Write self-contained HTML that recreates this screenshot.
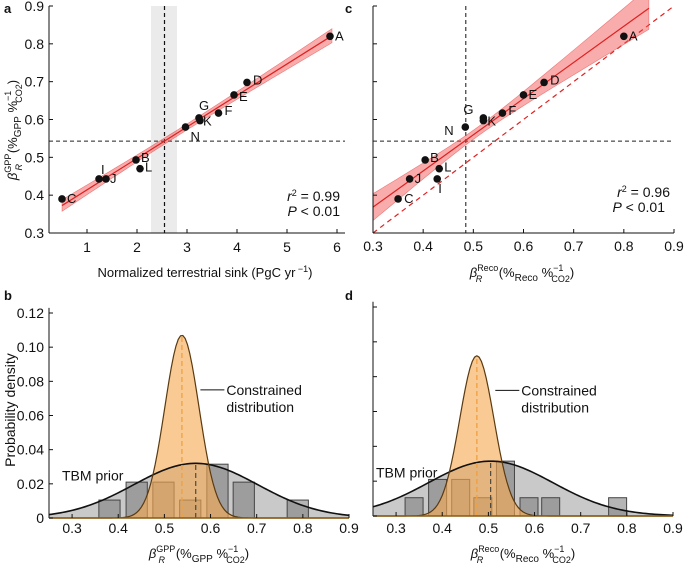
<!DOCTYPE html>
<html><head><meta charset="utf-8">
<style>
html,body{margin:0;padding:0;background:#fff;}
svg{display:block;font-family:"Liberation Sans",sans-serif;}
</style></head>
<body>
<svg id="fig" width="685" height="564" viewBox="0 0 685 564" xmlns="http://www.w3.org/2000/svg"></svg>
<script>
// ---------- data ----------
const modelNames = ["A","B","C","D","E","F","G","I","J","K","L","N"];
const sinkValues = [5.86,1.98,0.50,4.20,3.94,3.63,3.24,1.24,1.38,3.26,2.06,2.97];
const betaGppValues = [0.820,0.493,0.390,0.698,0.665,0.617,0.604,0.443,0.443,0.597,0.470,0.580];
const betaRecoValues = [0.800,0.404,0.350,0.641,0.600,0.558,0.520,0.428,0.373,0.520,0.432,0.484];
const sinkObs = [2.55];
const sinkObsRange = [2.28,2.80];
const gppConstrained = [0.543];
const recoConstrained = [0.485];
const panelAXTicks = [1,2,3,4,5,6];
const panelAYTicks = [0.3,0.4,0.5,0.6,0.7,0.8,0.9];
const panelCXTicks = [0.3,0.4,0.5,0.6,0.7,0.8,0.9];
const pdfYTicks = [0,0.02,0.04,0.06,0.08,0.10,0.12];
const pdfYTickLabels = ["0","0.02","0.04","0.06","0.08","0.10","0.12"];
const pdfXTicks = [0.3,0.4,0.5,0.6,0.7,0.8,0.9];
const gppBinCenters = [0.381,0.440,0.498,0.556,0.615,0.672,0.789];
const gppBinDensity = [0.0105,0.021,0.021,0.0105,0.0315,0.021,0.0105];
const recoBinCenters = [0.339,0.390,0.440,0.488,0.537,0.588,0.635,0.780];
const recoBinDensity = [0.0105,0.021,0.021,0.0105,0.0315,0.0105,0.0105,0.0105];
const gppPrior = [0.568,0.135,0.032];      // mean, sd, peak
const gppPosterior = [0.538,0.037,0.107];
const recoPrior = [0.505,0.135,0.0315];
const recoPosterior = [0.475,0.037,0.092];

// ---------- helpers ----------
const NS="http://www.w3.org/2000/svg";
const svg=document.getElementById('fig');
function mk(tag,attrs,parent,name,inter){
  const e=document.createElementNS(NS,tag);
  for(const k in attrs) e.setAttribute(k,attrs[k]);
  
  
  (parent||svg).appendChild(e); return e;
}
function txt(x,y,s,size,anchor,parent,name,extra){
  const t=mk('text',Object.assign({x:x,y:y,'font-size':size,'text-anchor':anchor||'start',fill:'#111'},extra||{}),parent,name,false);
  t.textContent=s; return t;
}
function lin(d0,d1,r0,r1){return v=>r0+(v-d0)*(r1-r0)/(d1-d0);}
function ols(xs,ys){const n=xs.length;const mx=xs.reduce((a,b)=>a+b)/n,my=ys.reduce((a,b)=>a+b)/n;
  let sxx=0,sxy=0;for(let i=0;i<n;i++){sxx+=(xs[i]-mx)**2;sxy+=(xs[i]-mx)*(ys[i]-my);}const b=sxy/sxx;return [my-b*mx,b,mx,sxx];}
function gauss(p,x){return p[2]*Math.exp(-((x-p[0])**2)/(2*p[1]*p[1]));}
function betaLabel(cx,y,sup,sub,parent,name){
  const t=mk('text',{x:cx,y:y,'font-size':13,'text-anchor':'middle',fill:'#111'},parent,name,false);
  let s1=mk('tspan',{'font-style':'italic'},t,'beta-symbol',false); s1.textContent="β";
  let s2=mk('tspan',{dy:-6,'font-size':9},t,'beta-superscript',false); s2.textContent=sup;
  let s3=mk('tspan',{dx:-(sup.length*5.6),dy:11,'font-size':9,'font-style':'italic'},t,'beta-subscript',false); s3.textContent="R";
  let s4=mk('tspan',{dx:(sup.length*5.6-6),dy:-5},t,'unit-open',false); s4.textContent="(%";
  let s5=mk('tspan',{dy:4,'font-size':10},t,'unit-sub',false); s5.textContent=sub;
  let s6=mk('tspan',{dy:-4},t,'unit-pct',false); s6.textContent=" %";
  let s7=mk('tspan',{dy:-6,'font-size':9},t,'unit-exp',false); s7.textContent="−1";
  let s8=mk('tspan',{dx:-12,dy:11,'font-size':9},t,'unit-co2',false); s8.textContent="CO2";
  let s9=mk('tspan',{dy:-5},t,'unit-close',false); s9.textContent=")";
  return t;
}

// ---------- panel a ----------
const ax=lin(0,1,37,87), ay=lin(0.3,0.9,233,6);
const gA=mk('g',{},svg,'panel-a',false);
txt(4,13,"a",13,'start',gA,'panel-a-letter',{'font-weight':'bold'});
mk('rect',{x:ax(sinkObsRange[0]),y:6,width:ax(sinkObsRange[1])-ax(sinkObsRange[0]),height:227,fill:'#ebebeb'},gA,'observed-sink-range',false);
mk('line',{x1:ax(sinkObs[0]),x2:ax(sinkObs[0]),y1:6,y2:233,stroke:'#111','stroke-width':1.2,'stroke-dasharray':'4,3'},gA,'observed-sink-line',false);
mk('line',{x1:49,x2:345,y1:ay(gppConstrained[0]),y2:ay(gppConstrained[0]),stroke:'#222','stroke-width':1,'stroke-dasharray':'4,3'},gA,'constrained-beta-line',false);
(function(){
  const f=ols(sinkValues,betaGppValues);const x0=0.5,x1=5.9;let up=[],lo=[];
  for(let i=0;i<=40;i++){const x=x0+(x1-x0)*i/40;const y=f[0]+f[1]*x;const h=Math.sqrt(0.008**2+(0.0055*(x-f[2]))**2);
    up.push(ax(x)+','+ay(y+h));lo.unshift(ax(x)+','+ay(y-h));}
  mk('polygon',{points:up.concat(lo).join(' '),fill:'rgba(240,70,70,0.45)',stroke:'rgba(230,60,60,0.6)','stroke-width':0.6},gA,'regression-confidence-band',false);
  mk('line',{x1:ax(x0),y1:ay(f[0]+f[1]*x0),x2:ax(x1),y2:ay(f[0]+f[1]*x1),stroke:'#e02020','stroke-width':1.2},gA,'regression-line',false);
})();
const aOff={A:[5,4],B:[5,2],C:[5,4],D:[6,2],E:[5,6],F:[6,2],G:[0,-8],I:[2,-5],J:[4,4],K:[3,5],L:[5,3],N:[5,14]};
modelNames.forEach((m,i)=>{
  const x=ax(sinkValues[i]),y=ay(betaGppValues[i]);
  mk('circle',{cx:x,cy:y,r:3.8,fill:'#111'},gA,'model-point-'+m.toLowerCase(),true);
  txt(x+aOff[m][0],y+aOff[m][1],m,13,'start',gA,'model-label-'+m.toLowerCase());
});
mk('line',{x1:49,x2:49,y1:6,y2:233,stroke:'#111','stroke-width':1},gA,'y-axis',false);
mk('line',{x1:49,x2:345,y1:233,y2:233,stroke:'#111','stroke-width':1},gA,'x-axis',false);
panelAYTicks.forEach(v=>{mk('line',{x1:49,x2:53,y1:ay(v),y2:ay(v),stroke:'#111'},gA,'y-tick',false);txt(44,ay(v)+5,v.toFixed(1),14,'end',gA,'y-tick-label');});
panelAXTicks.forEach(v=>{mk('line',{x1:ax(v),x2:ax(v),y1:233,y2:229,stroke:'#111'},gA,'x-tick',false);txt(ax(v),252,String(v),14,'middle',gA,'x-tick-label');});
(function(){const t=txt(205,277,"Normalized terrestrial sink (PgC yr",13,'middle',gA,'x-axis-title');
  const s=mk('tspan',{dy:-5,'font-size':9},t,'exp',false);s.textContent=" −1";const s2=mk('tspan',{dy:5},t,'close',false);s2.textContent=")";})();
(function(){const g=mk('g',{transform:'translate(17,130) rotate(-90)'},gA,'y-axis-title-group',false);betaLabel(0,0,"GPP","GPP",g,'y-axis-title');})();
(function(){const t=txt(340,201,"",14,'end',gA,'r-squared-a');const a=mk('tspan',{'font-style':'italic'},t,'r',false);a.textContent="r";const b=mk('tspan',{dy:-5,'font-size':9},t,'sq',false);b.textContent="2";const c=mk('tspan',{dy:5},t,'val',false);c.textContent=" = 0.99";
  const t2=txt(340,216,"",14,'end',gA,'p-value-a');const p=mk('tspan',{'font-style':'italic'},t2,'p',false);p.textContent="P";const q=mk('tspan',{},t2,'val',false);q.textContent=" < 0.01";})();

// ---------- panel c ----------
const cx=lin(0.3,0.9,373,674), cy=ay;
const gC=mk('g',{},svg,'panel-c',false);
txt(345,13,"c",13,'start',gC,'panel-c-letter',{'font-weight':'bold'});
mk('line',{x1:cx(recoConstrained[0]),x2:cx(recoConstrained[0]),y1:6,y2:233,stroke:'#111','stroke-width':1,'stroke-dasharray':'4,3'},gC,'constrained-reco-line',false);
mk('line',{x1:373,x2:674,y1:cy(gppConstrained[0]),y2:cy(gppConstrained[0]),stroke:'#222','stroke-width':1,'stroke-dasharray':'4,3'},gC,'constrained-beta-line-c',false);
mk('line',{x1:cx(0.3),y1:cy(0.3),x2:cx(0.9),y2:cy(0.9),stroke:'#e02020','stroke-width':1.2,'stroke-dasharray':'5,4'},gC,'one-to-one-line',false);
(function(){
  const f=ols(betaRecoValues,betaGppValues);const x0=0.3,x1=0.85;let up=[],lo=[];
  for(let i=0;i<=40;i++){const x=x0+(x1-x0)*i/40;const y=f[0]+f[1]*x;const h=Math.sqrt(0.012**2+(0.16*(x-f[2]))**2);
    up.push(cx(x)+','+cy(y+h));lo.unshift(cx(x)+','+cy(y-h));}
  mk('polygon',{points:up.concat(lo).join(' '),fill:'rgba(240,70,70,0.45)',stroke:'rgba(230,60,60,0.6)','stroke-width':0.6},gC,'regression-confidence-band-c',false);
  mk('line',{x1:cx(x0),y1:cy(f[0]+f[1]*x0),x2:cx(x1),y2:cy(f[0]+f[1]*x1),stroke:'#e02020','stroke-width':1.2},gC,'regression-line-c',false);
})();
const cOff={A:[5,4],B:[5,2],C:[6,4],D:[6,2],E:[5,4],F:[6,2],G:[-20,-4],I:[1,14],J:[5,4],K:[4,5],L:[5,3],N:[-21,8]};
modelNames.forEach((m,i)=>{
  const x=cx(betaRecoValues[i]),y=cy(betaGppValues[i]);
  mk('circle',{cx:x,cy:y,r:3.8,fill:'#111'},gC,'model-point-c-'+m.toLowerCase(),true);
  txt(x+cOff[m][0],y+cOff[m][1],m,13,'start',gC,'model-label-c-'+m.toLowerCase());
});
mk('line',{x1:373,x2:373,y1:6,y2:233,stroke:'#111'},gC,'y-axis-c',false);
mk('line',{x1:373,x2:674,y1:233,y2:233,stroke:'#111'},gC,'x-axis-c',false);
panelAYTicks.forEach(v=>mk('line',{x1:373,x2:377,y1:cy(v),y2:cy(v),stroke:'#111'},gC,'y-tick-c',false));
panelCXTicks.forEach(v=>{mk('line',{x1:cx(v),x2:cx(v),y1:233,y2:229,stroke:'#111'},gC,'x-tick-c',false);txt(cx(v),251,v.toFixed(1),14,'middle',gC,'x-tick-label-c');});
betaLabel(522,277,"Reco","Reco",gC,'x-axis-title-c');
(function(){const t=txt(670,197,"",14,'end',gC,'r-squared-c');const a=mk('tspan',{'font-style':'italic'},t,'r',false);a.textContent="r";const b=mk('tspan',{dy:-5,'font-size':9},t,'sq',false);b.textContent="2";const c=mk('tspan',{dy:5},t,'val',false);c.textContent=" = 0.96";
  const t2=txt(665,212,"",14,'end',gC,'p-value-c');const p=mk('tspan',{'font-style':'italic'},t2,'p',false);p.textContent="P";const q=mk('tspan',{},t2,'val',false);q.textContent=" < 0.01";})();

// ---------- pdf panels ----------
function pdfPanel(letter,lx,x0px,yBase,yTop,centers,dens,binW,prior,post,sub,showY,annDy){
  const g=mk('g',{},svg,'panel-'+letter,false);
  const px=lin(0.25,0.9,x0px,x0px+300), py=lin(0,0.12,yBase,yTop);
  txt(lx,300,letter,13,'start',g,'panel-'+letter+'-letter',{'font-weight':'bold'});
  let pp=[],qq=[];
  for(let i=0;i<=130;i++){const x=0.25+0.65*i/130;pp.push(px(x)+','+py(gauss(prior,x)));qq.push(px(x)+','+py(gauss(post,x)));}
  mk('polygon',{points:px(0.25)+','+py(0)+' '+pp.join(' ')+' '+px(0.9)+','+py(0),fill:'#c9c9c9',stroke:'none'},g,'prior-fill',false);
  centers.forEach((c,i)=>{
    mk('rect',{x:px(c-binW/2),y:py(dens[i]),width:px(c+binW/2)-px(c-binW/2),height:py(0)-py(dens[i]),fill:'rgba(120,120,120,0.55)',stroke:'#444','stroke-width':1},g,'histogram-bar',false);
  });
  mk('polygon',{points:px(0.25)+','+py(0)+' '+qq.join(' ')+' '+px(0.9)+','+py(0),fill:'rgba(245,170,80,0.62)',stroke:'none'},g,'posterior-fill',false);
  mk('polyline',{points:pp.join(' '),fill:'none',stroke:'#111','stroke-width':1.6},g,'prior-curve',false);
  mk('polyline',{points:qq.join(' '),fill:'none',stroke:'#5a3a10','stroke-width':1.2},g,'posterior-curve',false);
  mk('line',{x1:px(post[0]),x2:px(post[0]),y1:py(0),y2:py(post[2]),stroke:'#f0a040','stroke-width':1.3,'stroke-dasharray':'5,3'},g,'posterior-mean-line',false);
  mk('line',{x1:px(prior[0]),x2:px(prior[0]),y1:py(0),y2:py(prior[2]),stroke:'#333','stroke-width':1,'stroke-dasharray':'5,3'},g,'prior-mean-line',false);
  mk('line',{x1:x0px,x2:x0px,y1:py(0.123),y2:py(0),stroke:'#111'},g,'y-axis-'+letter,false);
  mk('line',{x1:x0px,x2:x0px+300,y1:py(0),y2:py(0),stroke:'#8a5a10','stroke-width':1.5},g,'x-axis-'+letter,false);
  pdfYTicks.forEach((v,i)=>{mk('line',{x1:x0px,x2:x0px+4,y1:py(v),y2:py(v),stroke:'#111'},g,'y-tick',false);
    if(showY) txt(x0px-5,py(v)+5,pdfYTickLabels[i],14,'end',g,'y-tick-label');});
  pdfXTicks.forEach(v=>{mk('line',{x1:px(v),x2:px(v),y1:py(0),y2:py(0)-4,stroke:'#111'},g,'x-tick',false);txt(px(v),533,v.toFixed(1),14,'middle',g,'x-tick-label');});
  const ax0=px(post[0]+0.04), ay0=py(0.075)+annDy;
  mk('line',{x1:ax0,x2:ax0+24,y1:ay0,y2:ay0,stroke:'#111'},g,'annotation-leader',false);
  txt(ax0+26,ay0+5,"Constrained",14,'start',g,'constrained-label');
  txt(ax0+26,ay0+22,"distribution",14,'start',g,'constrained-label-2');
  txt(px(0.25)+(showY?13:3),py(0.025)+5,"TBM prior",14,'start',g,'tbm-prior-label');
  betaLabel(x0px+150,558,sub,sub,g,'x-axis-title-'+letter);
  return g;
}
pdfPanel('b',4,49,518,313,gppBinCenters,gppBinDensity,0.046,gppPrior,gppPosterior,"GPP",true,0);
pdfPanel('d',345,373,516,307,recoBinCenters,recoBinDensity,0.039,recoPrior,recoPosterior,"Reco",false,5);
txt(0,0,"Probability density",14,'middle',svg,'y-axis-title-b',{transform:'translate(15,410) rotate(-90)'});
</script>
</body></html>
